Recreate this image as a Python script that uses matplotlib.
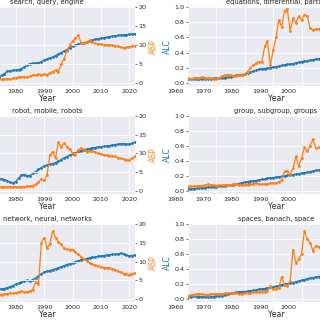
"""Topic trends: ALC vs ASP per year for six keyword clusters."""

import matplotlib

matplotlib.use("Agg")
import matplotlib.pyplot as plt
import matplotlib.transforms as mtransforms
import seaborn as sns

BLUE = "#1f77b4"
ORANGE = "#ff7f0e"

# left column (CS topics), years 1973-2022
years_left = list(range(1973, 2023))

search_alc = [0.07, 0.08, 0.10, 0.12, 0.155, 0.16, 0.165, 0.17, 0.175, 0.19,
              0.21, 0.235, 0.255, 0.26, 0.26, 0.265, 0.28, 0.30, 0.315, 0.33,
              0.34, 0.36, 0.38, 0.40, 0.42, 0.44, 0.465, 0.485, 0.50, 0.51,
              0.52, 0.53, 0.54, 0.555, 0.565, 0.575, 0.58, 0.59, 0.595, 0.60,
              0.61, 0.615, 0.62, 0.625, 0.63, 0.635, 0.635, 0.64, 0.64, 0.65]
search_asp = [0.9, 1.0, 1.0, 1.0, 1.1, 1.1, 1.2, 1.4, 1.5, 1.6,
              1.6, 1.5, 1.8, 2.0, 2.1, 2.3, 2.2, 2.3, 2.2, 2.7,
              3.0, 3.3, 3.0, 5.0, 6.4, 8.4, 10.0, 11.0, 11.8, 12.6,
              10.6, 10.4, 10.8, 11.2, 10.8, 10.4, 10.3, 10.2, 10.1, 10.0,
              10.0, 9.9, 9.8, 9.6, 9.4, 9.3, 9.4, 9.5, 9.7, 9.7]

robot_alc = [0.17, 0.165, 0.16, 0.15, 0.135, 0.115, 0.11, 0.125, 0.17, 0.215,
             0.22, 0.205, 0.205, 0.235, 0.26, 0.29, 0.31, 0.335, 0.345, 0.355,
             0.365, 0.38, 0.40, 0.42, 0.44, 0.46, 0.48, 0.495, 0.51, 0.525,
             0.535, 0.545, 0.555, 0.565, 0.575, 0.58, 0.585, 0.59, 0.595, 0.60,
             0.605, 0.615, 0.62, 0.625, 0.63, 0.63, 0.625, 0.625, 0.635, 0.655]
robot_asp = [1.1, 1.1, 1.1, 1.1, 1.1, 1.1, 1.1, 1.1, 1.1, 1.1,
             1.15, 1.2, 1.3, 1.4, 1.8, 2.5, 3.2, 2.8, 4.3, 9.6,
             10.5, 8.7, 13.0, 11.8, 12.7, 11.8, 11.2, 10.0, 9.6, 10.9,
             11.4, 11.1, 10.5, 10.6, 10.7, 10.4, 10.0, 9.9, 9.7, 9.6,
             9.4, 9.3, 9.2, 8.9, 8.7, 8.5, 8.2, 8.3, 8.7, 9.2]

net_alc = [0.125, 0.13, 0.135, 0.14, 0.15, 0.165, 0.18, 0.195, 0.21, 0.225,
           0.24, 0.25, 0.24, 0.26, 0.28, 0.31, 0.335, 0.36, 0.37, 0.38,
           0.39, 0.405, 0.415, 0.43, 0.445, 0.46, 0.47, 0.485, 0.50, 0.51,
           0.52, 0.53, 0.54, 0.55, 0.555, 0.56, 0.57, 0.575, 0.58, 0.585,
           0.59, 0.595, 0.595, 0.60, 0.61, 0.60, 0.585, 0.575, 0.58, 0.59]
net_asp = [1.1, 1.2, 1.2, 1.3, 1.4, 1.5, 1.5, 1.6, 1.8, 2.1,
           1.8, 1.9, 2.1, 2.5, 4.5, 3.9, 15.0, 16.4, 13.7, 14.6,
           18.2, 16.4, 15.2, 14.6, 13.5, 13.3, 13.2, 13.1, 12.5, 11.9,
           11.3, 10.8, 10.2, 9.7, 9.3, 9.0, 8.8, 8.6, 8.4, 8.3,
           8.2, 8.1, 7.8, 7.4, 7.1, 6.8, 6.6, 6.5, 6.8, 7.0]

# right column (math topics), years 1960-2007
years_right = list(range(1960, 2008))

eq_alc = [0.05, 0.05, 0.05, 0.05, 0.05, 0.05, 0.05, 0.055, 0.055, 0.06,
          0.06, 0.06, 0.065, 0.07, 0.075, 0.08, 0.09, 0.10, 0.105, 0.11,
          0.12, 0.13, 0.14, 0.155, 0.165, 0.18, 0.185, 0.19, 0.195, 0.20,
          0.21, 0.215, 0.22, 0.23, 0.235, 0.245, 0.25, 0.255, 0.265, 0.27,
          0.28, 0.285, 0.29, 0.30, 0.305, 0.315, 0.32, 0.325]
eq_asp = [1.2, 1.0, 1.2, 1.4, 1.3, 1.6, 1.4, 1.2, 1.2, 1.1,
          1.0, 1.4, 1.8, 2.0, 2.2, 2.0, 1.8, 1.9, 2.0, 2.0,
          2.4, 3.0, 4.0, 4.6, 5.2, 5.6, 5.4, 9.6, 11.0, 4.6,
          8.6, 12.0, 16.6, 14.8, 19.0, 19.4, 13.6, 17.0, 15.8, 17.6,
          16.6, 18.0, 17.6, 14.4, 14.0, 14.2, 14.2, 14.4]

grp_alc = [0.03, 0.03, 0.03, 0.035, 0.035, 0.04, 0.045, 0.05, 0.055, 0.06,
           0.06, 0.065, 0.065, 0.07, 0.075, 0.08, 0.085, 0.09, 0.10, 0.11,
           0.12, 0.125, 0.13, 0.135, 0.14, 0.15, 0.155, 0.16, 0.17, 0.175,
           0.18, 0.185, 0.19, 0.195, 0.20, 0.21, 0.215, 0.22, 0.225, 0.23,
           0.24, 0.245, 0.25, 0.26, 0.265, 0.275, 0.28, 0.285]
grp_asp = [1.2, 1.2, 1.3, 1.3, 1.4, 1.4, 1.6, 1.8, 1.7, 1.5,
           1.4, 1.5, 1.5, 1.6, 1.6, 1.7, 1.8, 1.8, 1.7, 1.6,
           1.6, 1.7, 1.8, 1.9, 2.0, 1.9, 1.8, 1.8, 1.9, 2.0,
           2.0, 2.2, 2.4, 3.0, 5.2, 5.2, 4.6, 6.0, 9.2, 6.6,
           8.8, 11.6, 10.6, 12.0, 13.8, 11.4, 11.6, 12.0]

spc_alc = [0.03, 0.03, 0.035, 0.03, 0.03, 0.03, 0.03, 0.03, 0.03, 0.03,
           0.035, 0.04, 0.045, 0.055, 0.065, 0.075, 0.085, 0.09, 0.095, 0.10,
           0.10, 0.105, 0.11, 0.115, 0.12, 0.13, 0.135, 0.14, 0.15, 0.155,
           0.16, 0.17, 0.18, 0.19, 0.195, 0.205, 0.21, 0.22, 0.23, 0.24,
           0.25, 0.26, 0.27, 0.28, 0.285, 0.295, 0.30, 0.305]
spc_asp = [0.9, 1.0, 1.2, 1.4, 1.4, 1.3, 1.2, 1.2, 1.3, 1.4,
           1.4, 1.4, 1.4, 1.5, 1.5, 1.6, 1.6, 1.5, 1.4, 1.4,
           1.5, 1.6, 1.7, 1.8, 1.8, 1.9, 1.9, 2.0, 2.2, 3.4,
           2.6, 2.6, 3.0, 6.0, 3.8, 3.6, 4.8, 13.2, 9.6, 10.6,
           12.0, 18.2, 16.0, 15.0, 12.8, 14.2, 14.0, 14.0]

titles_left = ["search, query, engine", "robot, mobile, robots", "network, neural, networks"]
titles_right = ["equations, differential, partial", "group, subgroup, groups", "spaces, banach, space"]

# only the decades that land inside the 320 px canvas
xticks_left = [1980, 1990, 2000, 2010, 2020]
xticks_right = [1960, 1970, 1980, 1990, 2000]

TICK_FS = 4.6
LABEL_FS = 5.6

# axes rows in pixels (top, bottom) of a 320x320 canvas
ROWS = [(7, 86), (116, 194), (224, 302)]


def style_axes(ax, twin, xticks):
    ax.set_facecolor("#EAEAF2")
    for a in (ax, twin):
        for s in a.spines.values():
            s.set_visible(False)
    ax.grid(True, color="white", linewidth=0.6)
    twin.grid(False)
    ax.set_axisbelow(True)
    ax.set_xlim(1960, 2022)
    ax.set_xticks(xticks)
    ax.set_ylim(-0.04, 1.0)
    twin.set_ylim(-0.8, 20)
    ax.tick_params(axis="x", labelsize=TICK_FS, length=0, pad=2)
    ax.set_xlabel("Year", fontsize=LABEL_FS, labelpad=0.5)


def make_panel(fig, rect, years, alc, asp, title, side):
    ax = fig.add_axes(rect)
    twin = ax.twinx()
    style_axes(ax, twin, xticks_left if side == "left" else xticks_right)
    ax.plot(years, alc, color=BLUE, marker=".", markersize=2.0, linewidth=0.9)
    twin.plot(years, asp, color=ORANGE, marker=".", markersize=2.0, linewidth=0.9)
    ax.set_title(title, fontsize=TICK_FS + 0.3, pad=2)
    if side == "left":
        ax.set_yticks([0.0, 0.2, 0.4, 0.6, 0.8, 1.0])
        ax.tick_params(axis="y", labelleft=False, length=0)
        twin.set_yticks([0, 5, 10, 15, 20])
        twin.tick_params(axis="y", labelsize=TICK_FS, length=1.5, width=0.5, pad=1, color="#333333")
        twin.set_ylabel("ASP", fontsize=LABEL_FS, color=ORANGE, labelpad=2)
        ax.yaxis.grid(False)
        twin.yaxis.grid(True, color="white", linewidth=0.6)
        twin.set_zorder(ax.get_zorder() + 1)
        twin.patch.set_visible(False)
    else:
        ax.set_yticks([0.0, 0.2, 0.4, 0.6, 0.8, 1.0])
        ax.tick_params(axis="y", labelsize=TICK_FS, length=1.5, width=0.5, pad=1, color="#333333")
        ax.set_ylabel("ALC", fontsize=LABEL_FS, color=BLUE, labelpad=2)
        twin.set_yticks([0, 5, 10, 15, 20])
        twin.tick_params(axis="y", labelright=False, length=0)
        # year labels in this column sit left of their grid lines
        shift = mtransforms.ScaledTranslation(-13 / 100, 0, fig.dpi_scale_trans)
        for tick in ax.xaxis.get_major_ticks():
            tick.label1.set_transform(tick.label1.get_transform() + shift)
    return ax


def main():
    sns.set_style("darkgrid")
    plt.rcParams["font.family"] = ["DejaVu Sans"]
    plt.rcParams["text.color"] = "#222222"
    plt.rcParams["xtick.color"] = "#222222"
    plt.rcParams["ytick.color"] = "#222222"

    fig = plt.figure(figsize=(3.2, 3.2), dpi=100)
    fig.patch.set_facecolor("white")

    left_data = [(search_alc, search_asp), (robot_alc, robot_asp), (net_alc, net_asp)]
    right_data = [(eq_alc, eq_asp), (grp_alc, grp_asp), (spc_alc, spc_asp)]

    for i, (top, bottom) in enumerate(ROWS):
        y0 = 1 - bottom / 320
        h = (bottom - top) / 320
        alc, asp = left_data[i]
        make_panel(fig, [-41 / 320, y0, 176 / 320, h], years_left, alc, asp, titles_left[i], "left")
        alc, asp = right_data[i]
        make_panel(fig, [188 / 320, y0, 176 / 320, h], years_right, alc, asp, titles_right[i], "right")

    fig.savefig("out.png", dpi=100)


if __name__ == "__main__":
    main()
